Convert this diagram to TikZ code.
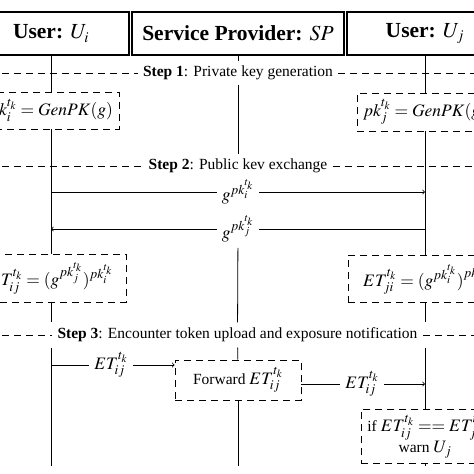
\documentclass[tikz,border=0pt]{standalone}
\usepackage{mathptmx}
\usepackage{fontspec}
\setmainfont{Liberation Serif}
\usetikzlibrary{arrows, positioning, calc}
\DeclareMathSizes{15.5}{17.5}{13.5}{11}
\DeclareMathSizes{21.5}{21.5}{15}{11}

\begin{document}
\begin{tikzpicture}[x=1pt, y=-1pt, line width=0.8pt,
  font=\fontsize{15.5}{18}\selectfont,
  head/.style={draw, line width=1.2pt, minimum height=43pt, font=\fontsize{21.5}{24}\selectfont\bfseries},
  dbox/.style={draw, dash pattern=on 7pt off 5pt, inner sep=6pt},
  stepline/.style={dash pattern=on 7pt off 5pt},
  steptext/.style={inner sep=5pt},
  msg/.style={inner sep=5pt}]

 \useasboundingbox (0,0) rectangle (474,474);
 \clip (0,0) rectangle (474,474);

 % Headers
 \node[head, minimum width=156pt] (ui) at (51,33.5) {User: $U_i$};
 \node[head, minimum width=212pt] (sp) at (238,33.5) {Service Provider: $SP$};
 \node[head, minimum width=156pt] (uj) at (425,33.5) {User: $U_j$};

 % Step separators
 \coordinate (s1l) at (-10,73);  \coordinate (s1r) at (490,73);
 \coordinate (s2l) at (-10,166); \coordinate (s2r) at (490,166);
 \coordinate (s3l) at (-10,335); \coordinate (s3r) at (490,335);
 \node[steptext] (step1) at (238,73) {\textbf{Step 1}: Private key generation};
 \node[steptext] (step2) at (238,166) {\textbf{Step 2}: Public kev exchange};
 \node[steptext] (step3) at (237.5,335) {\textbf{Step 3}: Encounter token upload and exposure notification};
 \draw[stepline] (s1l) -- (step1); \draw[stepline] (step1) -- (s1r);
 \draw[stepline] (s2l) -- (step2); \draw[stepline] (step2) -- (s2r);
 \draw[stepline] (s3l) -- (step3); \draw[stepline] (step3) -- (s3r);

 % Computation boxes
 \node[dbox, minimum height=37pt] (pki) at (51,110.5) {$pk_i^{t_k} = \mathit{GenPK}(g)$};
 \node[dbox, minimum height=38pt] (pkj) at (425,112) {$pk_j^{t_k} = \mathit{GenPK}(g)$};
 \node[dbox, minimum width=150pt, minimum height=48pt] (etij) at (51,278) {$ET_{ij}^{t_k} = (g^{pk_j^{t_k}})^{pk_i^{t_k}}$};
 \node[dbox, minimum width=154pt, minimum height=47pt] (etji) at (425,278.5) {$ET_{ji}^{t_k} = (g^{pk_i^{t_k}})^{pk_j^{t_k}}$};
 \node[dbox, minimum width=126pt, minimum height=40pt] (fwd) at (238,380) {Forward $ET_{ij}^{t_k}$};
 \node[dbox, align=center, minimum height=53pt, font=\fontsize{15.5}{18}\selectfont] (check) at (425,436.5)
   {if $ET_{ij}^{t_k} == ET_{ji}^{t_k}$\\ warn $U_j$};

 % Message labels
 \node[msg] (gi) at (238,192) {$g^{pk_i^{t_k}}$};
 \node[msg] (gj) at (238,229) {$g^{pk_j^{t_k}}$};
 \node[msg] (et1) at (111,365) {$ET_{ij}^{t_k}$};
 \node[msg] (et2) at (362,384) {$ET_{ij}^{t_k}$};

 \coordinate (uiend) at (51,466);
 \coordinate (spend) at (238,466);
 \coordinate (ujend) at (425,466);

 % Lifelines
 \draw (ui) -- (pki);
 \draw (pki) -- (etij);
 \draw (etij.south) -- (etij.south |- step3.north);
 \draw (step3.south -| ui) -- (uiend);
 \draw (sp) -- (step1);
 \draw (step1) -- (step2);
 \draw (gj) -- (step3);
 \draw (step3) -- (fwd);
 \draw (fwd) -- (spend);
 \draw (uj) -- (pkj);
 \draw (pkj) -- (etji);
 \draw (etji.south) -- (etji.south |- step3.north);
 \draw (step3.south -| uj) -- (check);
 \draw (check) -- (ujend);

 % Messages
 \draw (gi -| ui) -- (gi);
 \draw[->] (gi) -- (gi -| uj);
 \draw (gj -| uj) -- (gj);
 \draw[->] (gj) -- (gj -| ui);
 \draw (et1 -| ui) -- (et1);
 \draw[->] (et1) -- (et1 -| fwd.west);
 \draw (et2 -| fwd.east) -- (et2);
 \draw[->] (et2) -- (et2 -| uj);

\end{tikzpicture}
\end{document}
